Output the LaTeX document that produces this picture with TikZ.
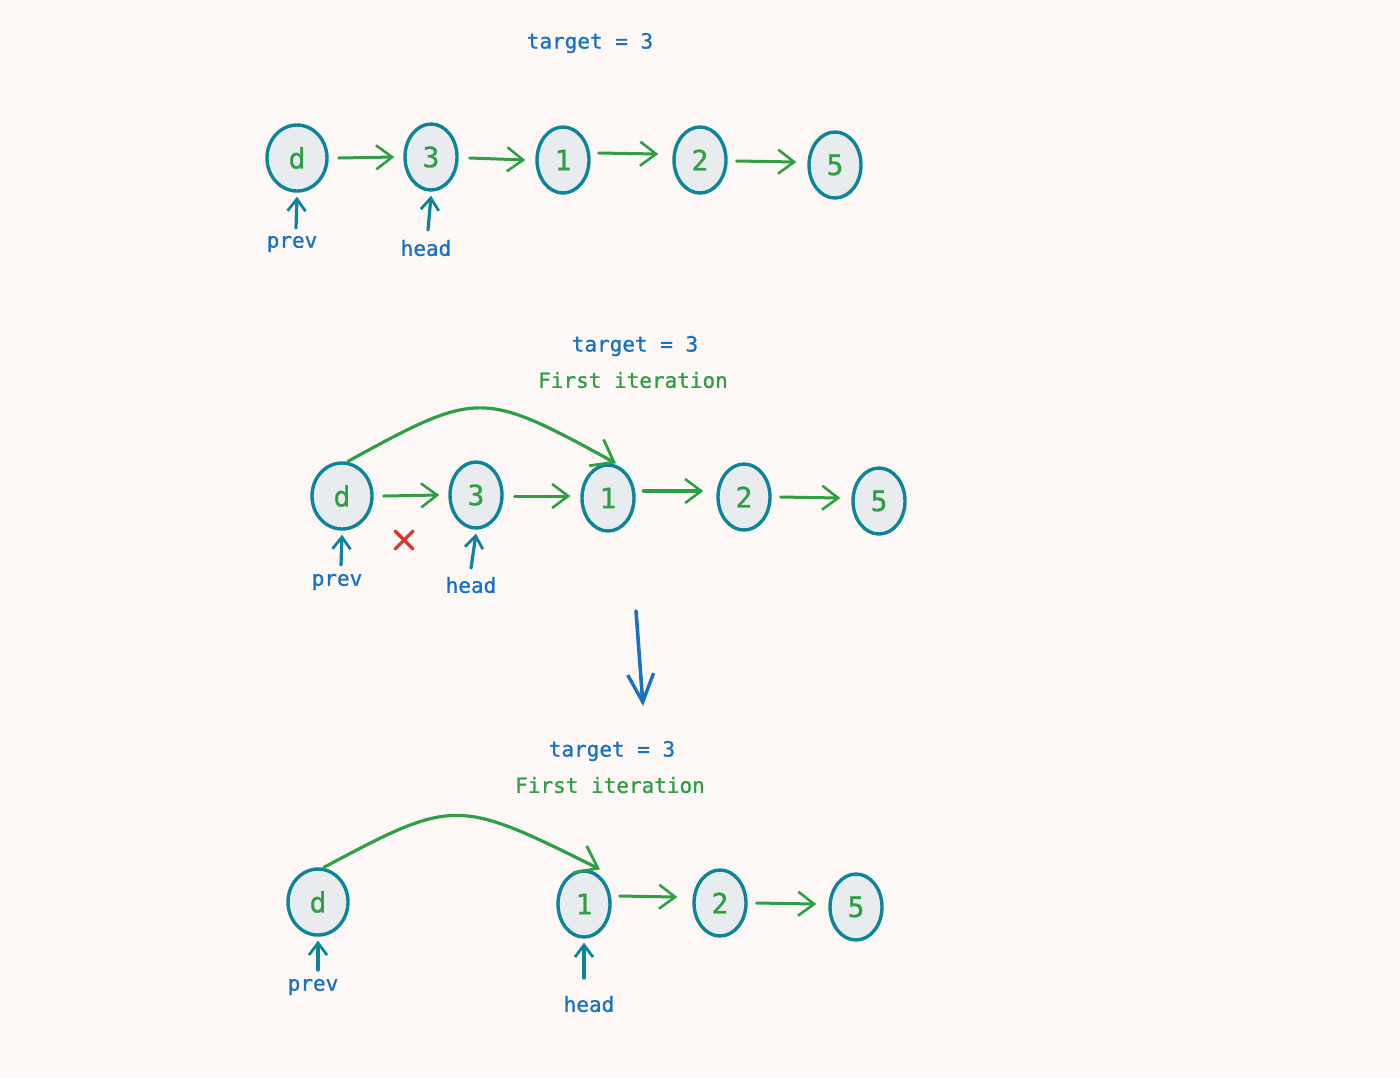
\documentclass[tikz,border=0pt]{standalone}
\usepackage{fontspec}
\setmonofont{DejaVu Sans Mono}
\newfontfamily\semimono{DejaVu Sans Mono}[FakeBold=1]
\usetikzlibrary{shapes.geometric,arrows.meta,calc}
\definecolor{bg}{HTML}{FDF8F6}
\definecolor{nfill}{HTML}{E9ECEF}
\definecolor{nline}{HTML}{0C8599}
\definecolor{grn}{HTML}{2F9E44}
\definecolor{blu}{HTML}{1971C2}
\definecolor{rd}{HTML}{E03131}
\tikzset{
  lnode/.style={ellipse, draw=nline, fill=nfill, line width=1.7pt, inner sep=0pt,
    minimum width=26pt, minimum height=33pt, text=grn, font=\semimono\fontsize{14}{14}\selectfont},
  dnode/.style={lnode, minimum width=30pt},
  lbl/.style={font=\semimono\fontsize{10.5}{12}\selectfont, text=blu},
  glbl/.style={font=\semimono\fontsize{10.5}{12}\selectfont, text=grn},
  link/.style={draw=grn, line width=1.5pt, line cap=round,
    -{Straight Barb[length=8pt,width=12pt,line width=1.3pt]}},
  curv/.style={draw=grn, line width=1.6pt, line cap=round,
    -{Straight Barb[length=10pt,width=15pt,line width=1.4pt]}},
  ptr/.style={draw=nline, line width=1.6pt, line cap=round,
    -{Straight Barb[length=6pt,width=9pt,line width=1.4pt]}},
  big/.style={draw=blu, line width=1.8pt, line cap=round,
    -{Straight Barb[length=14pt,width=13pt,line width=1.7pt]}},
}
\begin{document}
\begin{tikzpicture}[x=0.5pt,y=-0.5pt]
\fill[bg] (0,0) rectangle (1400,1078);
\useasboundingbox (0,0) rectangle (1400,1078);

% ---------- Row 1 ----------
\node[lbl] (t1) at (590,43) {target = 3};
\node[dnode] (a1) at (297,158) {d};
\node[lnode] (b1) at (431,157) {3};
\node[lnode] (c1) at (563,160) {1};
\node[lnode] (e1) at (700,160) {2};
\node[lnode] (f1) at (835,165) {5};
\draw[link] ([shift={(10,0)}]a1.east) -- ([shift={(-9,0)}]b1.west);
\draw[link] ([shift={(11,1)}]b1.east) -- ([shift={(-10,0)}]c1.west);
\draw[link] ([shift={(8,-7)}]c1.east) -- ([shift={(-14,-6)}]e1.west);
\draw[link] ([shift={(9,1)}]e1.east) -- ([shift={(-11,-3)}]f1.west);
\node[lbl] (pv1) at (292,244) {prev};
\node[lbl] (hd1) at (426,248) {head};
\coordinate (pp1) at (296,228);
\coordinate (hp1) at (428,230);
\draw[ptr] (pp1) -- ([yshift=-2]a1.south);
\draw[ptr] (hp1) -- ([yshift=-2]b1.south);

% ---------- Row 2 ----------
\node[lbl] (t2) at (635,346) {target = 3};
\node[glbl] (it2) at (633,380) {First iteration};
\node[dnode] (a2) at (342,496) {d};
\node[lnode] (b2) at (476,495) {3};
\node[lnode] (c2) at (608,498) {1};
\node[lnode] (e2) at (744,497) {2};
\node[lnode] (f2) at (879,501) {5};
\draw[curv] ([xshift=3]a2.north) .. controls (478,390) and (482,390) .. ([xshift=4]c2.north);
\draw[link] ([shift={(10,0)}]a2.east) -- ([shift={(-9,0)}]b2.west);
\draw[link] ([shift={(11,1)}]b2.east) -- ([shift={(-10,-2)}]c2.west);
\draw[link, line width=2pt] ([shift={(8,-7)}]c2.east) -- ([shift={(-13,-6)}]e2.west);
\draw[link] ([shift={(9,0)}]e2.east) -- ([shift={(-11,-3)}]f2.west);
\node[lbl] (pv2) at (337,582) {prev};
\node[lbl] (hd2) at (471,585) {head};
\coordinate (pp2) at (341,565);
\coordinate (hp2) at (471,568);
\draw[ptr] (pp2) -- ([yshift=-2]a2.south);
\draw[ptr] (hp2) -- ([yshift=-2]b2.south);
\coordinate (xm) at (404,540);
\draw[rd, line width=1.6pt, line cap=round] ($(xm)+(-9,-9)$) -- ($(xm)+(9,9)$);
\draw[rd, line width=1.6pt, line cap=round] ($(xm)+(9,-9)$) -- ($(xm)+(-9,9)$);

% ---------- transition arrow ----------
\coordinate (ds) at (636,611);
\coordinate (de) at (643,706);
\draw[big] (ds) -- (de);

% ---------- Row 3 ----------
\node[lbl] (t3) at (612,751) {target = 3};
\node[glbl] (it3) at (610,785) {First iteration};
\node[dnode] (a3) at (318,902) {d};
\node[lnode] (c3) at (584,904) {1};
\node[lnode] (e3) at (720,903) {2};
\node[lnode] (f3) at (856,907) {5};
\draw[curv] ([xshift=3]a3.north) .. controls (454,798) and (457,798) .. ([xshift=8]c3.north);
\draw[link] ([shift={(8,-8)}]c3.east) -- ([shift={(-15,-6)}]e3.west);
\draw[link] ([shift={(9,0)}]e3.east) -- ([shift={(-12,-3)}]f3.west);
\node[lbl] (pv3) at (313,987) {prev};
\node[lbl] (hd3) at (589,1004) {head};
\coordinate (pp3) at (318,970);
\coordinate (hp3) at (584,978);
\draw[ptr] (pp3) -- ([yshift=-2]a3.south);
\draw[ptr] (hp3) -- ([yshift=-2]c3.south);
\end{tikzpicture}
\end{document}
